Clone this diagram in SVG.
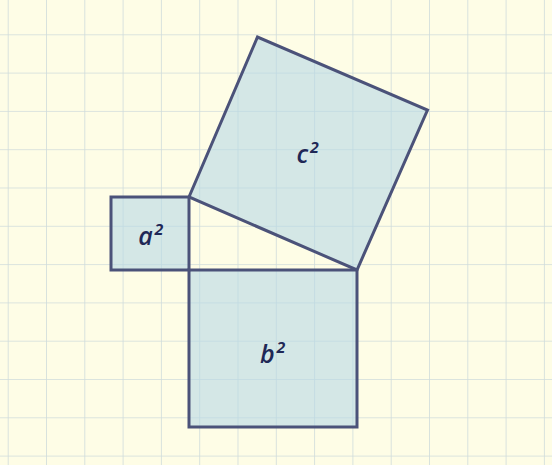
<svg xmlns="http://www.w3.org/2000/svg" width="552" height="465" viewBox="0 0 552 465">
<defs>
<pattern id="grid" x="7.7" y="34.3" width="38.3" height="38.3" patternUnits="userSpaceOnUse">
<path d="M0 0V38.3M0 0H38.3" fill="none" stroke="#cfdcdc" stroke-width="1.6"/>
</pattern>
<style>
.sq{fill:#b8d8e6;fill-opacity:0.6;stroke:#4b5279;stroke-width:3;stroke-linejoin:miter}
.lbl{font-family:"Open Sans","DejaVu Sans",sans-serif;font-style:italic;font-weight:600;font-size:25px;fill:#1f2856;text-anchor:middle}
</style>
</defs>
<rect width="552" height="465" fill="#fefde6"/>
<rect width="552" height="465" fill="url(#grid)"/>
<g id="square-c">
<polygon class="sq" points="189,197 257.5,37 427.5,110 357,270"/>
<text class="lbl" x="307" y="163">c²</text>
</g>
<g id="square-a">
<rect class="sq" x="111" y="197" width="78" height="73"/>
<text class="lbl" x="150" y="245">a²</text>
</g>
<g id="square-b">
<rect class="sq" x="189" y="270" width="168" height="157"/>
<text class="lbl" x="272" y="363">b²</text>
</g>
<g id="connectors"></g>
</svg>
